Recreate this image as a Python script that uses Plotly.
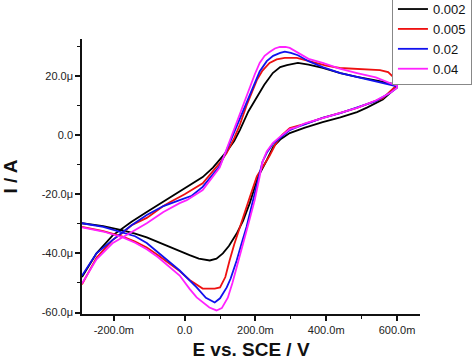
import plotly.graph_objects as go

# Scan rates (legend labels)
labels = ["0.002", "0.005", "0.02", "0.04"]
colors = ["#000000", "#ee1111", "#1111ee", "#ff22ff"]

# E in mV, I in microamps (closed CV loops: forward then reverse)
E_002 = [-290, -249, -204, -175, -150, -107, -60, -42, 0, 51, 80, 99, 119, 140, 156, 180, 204, 225, 249, 270, 289, 320, 350, 390, 440, 487, 540, 580, 600,
         600, 560, 515, 487, 440, 390, 340, 297, 270, 250, 232, 207, 184, 165, 147, 125, 108, 90, 71, 40, 14, -14, -42, -75, -107, -140, -175, -230, -290]
I_002 = [-48, -40, -34, -31.5, -29.3, -26, -22.5, -21, -18, -14.2, -11, -8.5, -5.5, -2, 1.7, 8, 12.9, 17, 21, 23, 23.7, 24.4, 23.8, 22.7, 21, 19.7, 18.5, 17.6, 17,
         16.3, 12, 9.3, 7.8, 6, 4.4, 2.5, 0.7, -1.5, -4, -8.5, -14.2, -23, -29, -33.3, -37.5, -40, -41.8, -42.4, -41.8, -40.6, -39.2, -37.8, -36.2, -34.6, -33.3, -32.2, -30.8, -29.8]

E_005 = [-290, -249, -204, -175, -150, -107, -60, -42, 0, 51, 99, 119, 140, 156, 175, 204, 220, 240, 260, 283, 317, 360, 400, 438, 500, 552, 575, 589, 600,
         600, 560, 520, 487, 440, 390, 340, 297, 275, 257, 240, 220, 204, 184, 156, 140, 127, 115, 100, 85, 51, 34, 14, -14, -42, -75, -107, -140, -175, -230, -290]
I_005 = [-50.5, -41.5, -35.5, -33, -30.5, -28, -24, -22.7, -20, -16.3, -9.5, -6, -1, 3.5, 10, 18.6, 21.8, 24.4, 25.6, 26.1, 26.1, 24.8, 23.5, 22.7, 22.3, 22, 21.3, 19.7, 18,
         17, 12.5, 10.8, 9.2, 7.5, 5.8, 3.8, 2.4, 0, -3, -7, -11, -14, -21, -31, -37, -42.4, -48, -51.5, -51.9, -51.9, -50.5, -49, -46, -43.4, -40.6, -38, -36, -34.3, -32.5, -31]

E_02 = [-290, -249, -204, -175, -150, -107, -60, -14, 20, 51, 99, 119, 140, 156, 175, 193, 212, 232, 250, 270, 283, 300, 320, 350, 390, 440, 487, 540, 580, 600,
        600, 580, 540, 487, 440, 390, 340, 317, 297, 270, 249, 232, 220, 212, 193, 175, 160, 147, 130, 119, 100, 85, 60, 34, -14, -42, -75, -107, -140, -175, -230, -290]
I_02 = [-47.5, -40, -35.5, -32.9, -30.5, -27, -24, -22, -20.5, -17.5, -10.5, -5, 1, 6, 11.5, 16.5, 21.5, 25, 26.8, 27.8, 28.2, 27.8, 27, 25, 23, 21, 19.7, 18.3, 17, 16.5,
        16, 14.2, 11.5, 9.2, 7.4, 5.8, 3.8, 2.7, 1.7, -1, -3, -6, -9, -12.9, -22, -31, -37, -42.4, -48.5, -51.5, -55.2, -56.6, -55, -51.5, -45.8, -43, -39.5, -36.5, -34.2, -32.9, -31, -29.8]

E_04 = [-290, -249, -204, -175, -156, -107, -60, -14, 6, 51, 99, 119, 140, 156, 170, 184, 198, 212, 226, 240, 255, 269, 285, 297, 320, 350, 390, 438, 487, 540, 580, 600,
        600, 580, 540, 487, 440, 390, 340, 317, 297, 270, 249, 232, 220, 212, 198, 178, 165, 150, 135, 122, 105, 90, 70, 34, 14, -14, -42, -75, -107, -140, -175, -230, -290]
I_04 = [-50.2, -42, -36.6, -34.6, -33.2, -29.8, -26, -23, -22, -18.6, -11, -4.5, 2, 7.4, 12, 16.3, 20.5, 24.4, 26.8, 28.1, 29.3, 29.8, 29.8, 29.5, 27.8, 25.8, 24.4, 22.5, 21, 19.5, 17.6, 16.8,
        16, 14.2, 11.7, 9.2, 7.5, 5.8, 4, 2.7, 2, -0.5, -2.7, -5.5, -9, -14, -22, -31, -37, -43.4, -50, -55, -58.5, -59.3, -58.3, -54.9, -52, -47.5, -44.7, -41.3, -38.6, -36.4, -34.6, -32.6, -31.2]

series_E = [E_002, E_005, E_02, E_04]
series_I = [I_002, I_005, I_02, I_04]

x_ticks = [-200, 0, 200, 400, 600]
x_ticktext = ["-200.0m", "0.0", "200.0m", "400.0m", "600.0m"]
y_ticks = [-60, -40, -20, 0, 20]
y_ticktext = ["-60.0\u03bc", "-40.0\u03bc", "-20.0\u03bc", "0.0", "20.0\u03bc"]

fig = go.Figure()
for lab, col, ex, iy in zip(labels, colors, series_E, series_I):
    fig.add_trace(go.Scatter(x=ex, y=iy, mode="lines", name=lab,
                             line=dict(color=col, width=1.8)))

axis_font = dict(family="Liberation Sans, Arial, sans-serif", size=11, color="#222222")
fig.update_layout(
    width=474, height=362,
    margin=dict(l=82, r=54, t=39, b=48, autoexpand=False),
    paper_bgcolor="white", plot_bgcolor="white",
    font=dict(family="Liberation Sans, Arial, sans-serif"),
    showlegend=True,
    legend=dict(x=0.917, y=1.167, xanchor="left", yanchor="top",
                bgcolor="white", bordercolor="#888888", borderwidth=1,
                font=dict(size=13, color="#111111"),
                tracegroupgap=0, entrywidth=52, entrywidthmode="pixels"),
    xaxis=dict(range=[-290, 665], tickvals=x_ticks, ticktext=x_ticktext,
               showgrid=False, zeroline=False, showline=True, linecolor="#111111", linewidth=1.5,
               ticks="outside", ticklen=5, tickwidth=1.5, tickcolor="#111111", tickfont=axis_font,
               minor=dict(tickvals=[-100, 100, 300, 500], ticks="outside", ticklen=3, tickcolor="#111111", tickwidth=1.2),
               title=dict(text="<b>E vs. SCE / V</b>", font=dict(size=19, color="#111111"), standoff=8)),
    yaxis=dict(range=[-60.5, 32.5], tickvals=y_ticks, ticktext=y_ticktext,
               showgrid=False, zeroline=False, showline=True, linecolor="#111111", linewidth=1.5,
               ticks="outside", ticklen=5, tickwidth=1.5, tickcolor="#111111", tickfont=axis_font,
               minor=dict(tickvals=[-50, -30, -10, 10, 30], ticks="outside", ticklen=3, tickcolor="#111111", tickwidth=1.2),
               title=dict(text="<b>I / A</b>", font=dict(size=19, color="#111111"), standoff=20)),
)

fig.write_html("out.html", config={"displayModeBar": False},
               post_script="document.body.style.margin='0px';document.body.style.overflow='hidden';")
